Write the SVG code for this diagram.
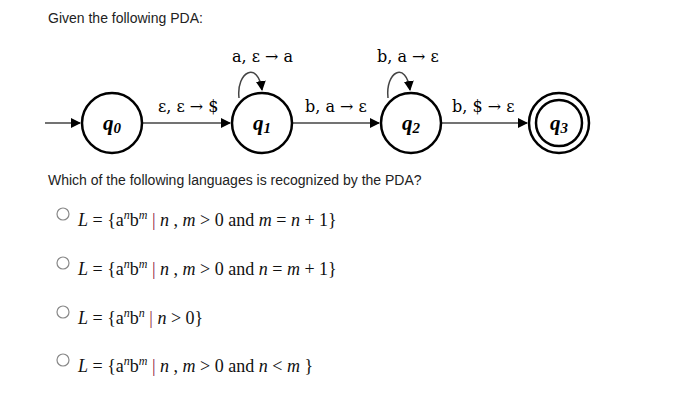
<svg xmlns="http://www.w3.org/2000/svg" width="688" height="404" viewBox="0 0 688 404">
<style>
.t{font-family:"Liberation Sans",Arial,sans-serif;font-size:14px;fill:#222}
.lb{font-family:"DejaVu Serif","Liberation Serif",serif;font-size:16px;fill:#000}
.q{font-family:"Liberation Serif",serif;font-size:21px;font-weight:bold;font-style:italic}
.st{fill:#fff;stroke:#000;stroke-width:2.5}
.e{fill:none;stroke:#444;stroke-width:1.5}
.m{font-family:"Liberation Serif",serif;font-size:18px;fill:#111}
.r{fill:#fff;stroke:#888;stroke-width:1.2}
</style>
<defs><marker id="a" markerWidth="10" markerHeight="10" refX="9" refY="5" orient="auto" markerUnits="userSpaceOnUse"><path d="M0,0 L10,5 L0,10 z" fill="#000"/></marker></defs>
<rect width="688" height="404" fill="#fff"/>
<text class="t" x="48" y="23">Given the following PDA:</text>
<g id="connectors">
<line class="e" x1="45" y1="123" x2="80" y2="123" marker-end="url(#a)"/>
<line class="e" x1="143" y1="123" x2="230" y2="123" marker-end="url(#a)"/>
<line class="e" x1="293" y1="123" x2="379" y2="123" marker-end="url(#a)"/>
<line class="e" x1="442" y1="123" x2="527" y2="123" marker-end="url(#a)"/>
<path class="e" d="M239,98 C236,72 258,60 262,90" marker-end="url(#a)"/>
<path class="e" d="M388,98 C385,72 406,60 410,90" marker-end="url(#a)"/>
<text class="lb" x="158" y="112">ε, ε → $</text>
<text class="lb" x="305" y="112">b, a → ε</text>
<text class="lb" x="452" y="112">b, $ → ε</text>
<text class="lb" x="232" y="62">a, ε → a</text>
<text class="lb" x="377" y="62">b, a → ε</text>
</g>
<g id="q0"><circle class="st" cx="112" cy="123" r="30"/><text class="q" x="112" y="130" text-anchor="middle">q<tspan font-size="15" dy="3">0</tspan></text></g>
<g id="q1"><circle class="st" cx="262" cy="123" r="30"/><text class="q" x="262" y="130" text-anchor="middle">q<tspan font-size="15" dy="3">1</tspan></text></g>
<g id="q2"><circle class="st" cx="411" cy="123" r="30"/><text class="q" x="411" y="130" text-anchor="middle">q<tspan font-size="15" dy="3">2</tspan></text></g>
<g id="q3"><circle class="st" cx="559" cy="123" r="30"/><circle class="st" cx="559" cy="123" r="23"/><text class="q" x="559" y="130" text-anchor="middle">q<tspan font-size="15" dy="3">3</tspan></text></g>
<text class="t" x="48" y="185">Which of the following languages is recognized by the PDA?</text>
<circle class="r" cx="63" cy="214" r="6"/>
<circle class="r" cx="63" cy="263" r="6"/>
<circle class="r" cx="63" cy="312" r="6"/>
<circle class="r" cx="63" cy="360" r="6"/>
<text class="m" x="78" y="226"><tspan font-style="italic">L</tspan> = {a<tspan font-style="italic" font-size="12" dy="-7">n</tspan><tspan dy="7">b</tspan><tspan font-style="italic" font-size="12" dy="-7">m</tspan><tspan dy="7" fill="#8b1a3a"> | </tspan><tspan font-style="italic">n</tspan> , <tspan font-style="italic">m</tspan> &gt; 0 and <tspan font-style="italic">m</tspan> = <tspan font-style="italic">n</tspan> + 1}</text>
<text class="m" x="78" y="275"><tspan font-style="italic">L</tspan> = {a<tspan font-style="italic" font-size="12" dy="-7">n</tspan><tspan dy="7">b</tspan><tspan font-style="italic" font-size="12" dy="-7">m</tspan><tspan dy="7" fill="#8b1a3a"> | </tspan><tspan font-style="italic">n</tspan> , <tspan font-style="italic">m</tspan> &gt; 0 and <tspan font-style="italic">n</tspan> = <tspan font-style="italic">m</tspan> + 1}</text>
<text class="m" x="78" y="324"><tspan font-style="italic">L</tspan> = {a<tspan font-style="italic" font-size="12" dy="-7">n</tspan><tspan dy="7">b</tspan><tspan font-style="italic" font-size="12" dy="-7">n</tspan><tspan dy="7" fill="#8b1a3a"> | </tspan><tspan font-style="italic">n</tspan> &gt; 0}</text>
<text class="m" x="78" y="372"><tspan font-style="italic">L</tspan> = {a<tspan font-style="italic" font-size="12" dy="-7">n</tspan><tspan dy="7">b</tspan><tspan font-style="italic" font-size="12" dy="-7">m</tspan><tspan dy="7" fill="#8b1a3a"> | </tspan><tspan font-style="italic">n</tspan> , <tspan font-style="italic">m</tspan> &gt; 0 and <tspan font-style="italic">n</tspan> &lt; <tspan font-style="italic">m</tspan> }</text>
</svg>
